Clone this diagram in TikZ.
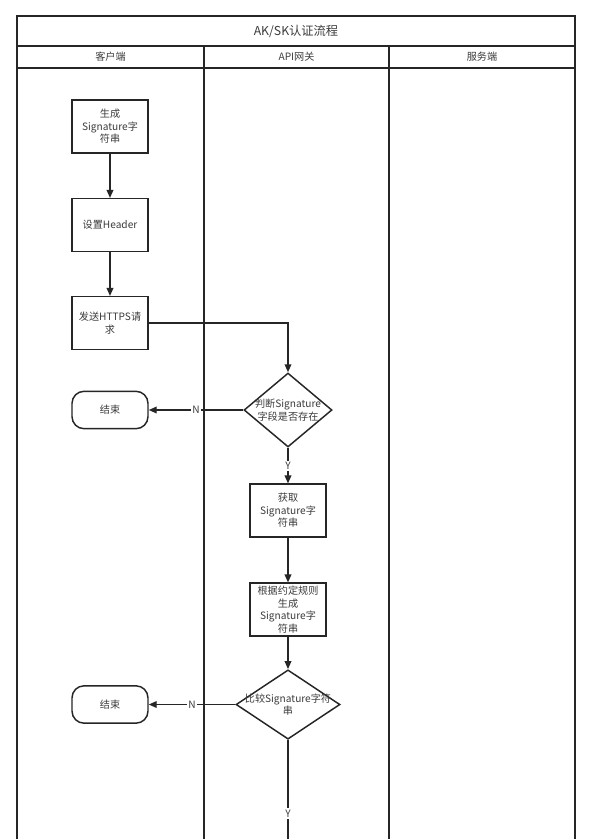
\documentclass[tikz,border=0pt]{standalone}
\usepackage{fontspec}
\setmainfont{Noto Sans CJK SC}
\usetikzlibrary{shapes,arrows.meta,positioning}
\definecolor{lineblack}{RGB}{38,38,38}
\definecolor{textgray}{RGB}{60,60,60}

\begin{document}
\begin{tikzpicture}[x=0.75pt,y=-0.75pt,
  every node/.style={font=\fontsize{7.6}{9.4}\selectfont,text=textgray},
  stepbox/.style={draw=lineblack,line width=1.1pt,align=center,minimum width=57pt,minimum height=39.5pt,inner sep=0.5pt},
  endbox/.style={stepbox,rounded corners=9pt,minimum height=28pt},
  choice/.style={draw=lineblack,line width=1.1pt,diamond,inner sep=0pt},
  flow/.style={draw=lineblack,line width=1.1pt,-{Triangle[length=6pt,width=5pt]}},
  yn/.style={fill=white,inner sep=1pt}]
\useasboundingbox (0,0) rectangle (593,839);
\fill[white] (0,0) rectangle (593,839);
\clip (0,0) rectangle (593,839);

% Swimlane frame
\draw[lineblack,line width=1pt] (17,900) |- (575,16) -- (575,900);
\draw[lineblack,line width=1pt] (17,46) -- (575,46);
\draw[lineblack,line width=1pt] (17,68) -- (575,68);
\draw[lineblack,line width=1pt] (204,46) -- (204,900);
\draw[lineblack,line width=1pt] (389,46) -- (389,900);

\node[font=\fontsize{9.2}{11}\selectfont] (title) at (296,31) {AK/SK认证流程};
\node (lanec) at (110.5,57) {客户端};
\node (laneg) at (296.5,57) {API网关};
\node (lanes) at (482,57) {服务端};

% Client side
\node[stepbox] (gen) at (110,126.5) {生成\\Signature字\\符串};
\node[stepbox] (hdr) at (110,225) {设置Header};
\node[stepbox] (send) at (110,323) {发送HTTPS请\\求};
\node[endbox] (end1) at (110,410) {结束};
\node[endbox] (end2) at (110,704.5) {结束};

% Gateway
\node[choice,minimum width=66pt,minimum height=55.5pt,
  label={[align=center,text=textgray]center:判断Signature\\字段是否存在}] (chk) at (288,410) {};
\node[stepbox] (get) at (288,510.5) {获取\\Signature字\\符串};
\node[stepbox] (make) at (288,609.5) {根据约定规则\\生成\\Signature字\\符串};
\node[choice,minimum width=78pt,minimum height=52pt,
  label={[align=center,text=textgray]center:比较Signature字符\\串}] (cmp) at (288,704.5) {};
\coordinate (out) at (288,887);

% Connectors
\draw[flow] (gen) -- (hdr);
\draw[flow] (hdr) -- (send);
\draw[flow] (send.east) -| (chk.north);
\draw[flow] (chk.west) -- node[yn] {N} (end1.east);
\draw[flow] (chk) -- node[yn] {Y} (get);
\draw[flow] (get) -- (make);
\draw[flow] (make) -- (cmp);
\draw[flow] (cmp.west) -- node[yn] {N} (end2.east);
\draw[lineblack,line width=1.1pt] (cmp) -- node[yn] {Y} (out);
\end{tikzpicture}
\end{document}
